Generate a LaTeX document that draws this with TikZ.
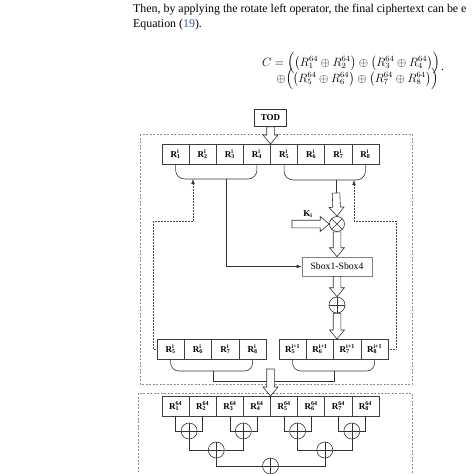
\documentclass[tikz,border=0pt]{standalone}
\usepackage{amsmath}
\usepackage{fontspec}
\setmainfont{Liberation Serif}
\usetikzlibrary{calc,arrows.meta}
\definecolor{linkblue}{RGB}{50,90,190}
\newcommand\blockarrow[2]{%
  \coordinate (bahead) at ($(#2)!9pt!(#1)$);
  \draw[blockarr] ($(#1)!3.8pt!90:(#2)$) -- ($(bahead)!3.8pt!-90:(#1)$) -- ($(bahead)!7.5pt!-90:(#1)$) -- (#2) -- ($(bahead)!7.5pt!90:(#1)$) -- ($(bahead)!3.8pt!90:(#1)$) -- ($(#1)!3.8pt!-90:(#2)$) -- cycle;
}
\begin{document}
\begin{tikzpicture}[x=1pt,y=-1pt,
  cell/.style={draw=black!75, line width=0.6pt, minimum width=27.125pt, minimum height=20pt, inner sep=0pt, outer sep=0pt, font=\fontsize{9}{10}\selectfont},
  cellb/.style={cell, minimum width=27.3pt},
  conn/.style={draw=black!80, line width=0.6pt},
  fb/.style={draw=black!70, line width=0.5pt, densely dotted},
  dbox/.style={draw=black!45, line width=0.6pt, dash pattern=on 2pt off 1.5pt},
  blockarr/.style={draw=black!80, line width=0.6pt, fill=white, line join=miter},
  xorc/.style={circle, draw=black!80, line width=0.6pt, minimum size=16pt, inner sep=0pt},
  xorp/.style={xorc, path picture={\draw[black!80, line width=0.6pt] (path picture bounding box.north) -- (path picture bounding box.south) (path picture bounding box.west) -- (path picture bounding box.east);}},
  xorx/.style={xorc, minimum size=15pt, path picture={\draw[black!80, line width=0.6pt] (path picture bounding box.north east) -- (path picture bounding box.south west) (path picture bounding box.north west) -- (path picture bounding box.south east);}},
  tip/.style={-{Latex[length=5pt,width=3.6pt]}}
]
\useasboundingbox (0,0) rectangle (474,474);

% text above
\node[anchor=base west, inner sep=0pt, font=\fontsize{11.9}{13}\selectfont] (line1) at (133,12) {Then, by applying the rotate left operator, the final ciphertext can be e};
\node[anchor=base west, inner sep=0pt, font=\fontsize{11.9}{13}\selectfont] (line2) at (133,27) {Equation (\textcolor{linkblue}{19}).};
\node[anchor=base east, inner sep=0pt, font=\fontsize{11.5}{13}\selectfont] (eq1) at (440,66) {$C=\Big(\big(R_1^{64}\oplus R_2^{64}\big)\oplus\big(R_3^{64}\oplus R_4^{64}\big)\Big)$};
\node[anchor=base east, inner sep=0pt, font=\fontsize{11.5}{13}\selectfont] (eq2) at (438.5,82) {$\oplus\Big(\big(R_5^{64}\oplus R_6^{64}\big)\oplus\big(R_7^{64}\oplus R_8^{64}\big)\Big)$};
\node[anchor=base west, inner sep=0pt, font=\fontsize{11.5}{13}\selectfont] (eqdot) at (441,70) {.};

% dashed frames
\draw[dbox] (140,134) rectangle (412,384);
\draw[dbox] (138,393) rectangle (412,490);

% TOD
\node[draw=black!80, line width=0.6pt, minimum width=32pt, minimum height=17pt, inner sep=0pt, font=\bfseries\fontsize{9}{10}\selectfont] (tod) at (270.5,118) {TOD};

% registers
\foreach \i in {1,...,8}
  \node[cell] (t\i) at ({162+27.125*(\i-0.5)},154) {$\textbf{R}^{\textbf{i}}_{\textbf{\i}}$};
\foreach \i [count=\k] in {5,...,8}
  \node[cellb] (a\i) at ({157+27.3*(\k-0.5)},349) {$\textbf{R}^{\textbf{i}}_{\textbf{\i}}$};
\foreach \i [count=\k] in {5,...,8}
  \node[cellb] (b\i) at ({279+27.3*(\k-0.5)},349) {$\textbf{R}^{\textbf{i+1}}_{\textbf{\i}}$};
\foreach \i in {1,...,8}
  \node[cell] (c\i) at ({162+27.125*(\i-0.5)},406) {$\textbf{R}^{\textbf{64}}_{\textbf{\i}}$};

\blockarrow{tod.south}{t4.north east}

% top brackets
\draw[conn, rounded corners=9pt] (t1.south) -- (t1.south |- 0,179) -- (t4.south |- 0,179) -- (t4.south);
\draw[conn, rounded corners=9pt] (t5.south) -- (t5.south |- 0,180) -- (t8.south |- 0,180) -- (t8.south);

% round function
\node[xorx] (x1) at (337,224) {};
\node[draw=black!50, line width=0.6pt, minimum width=70pt, minimum height=19pt, inner sep=0pt, font=\fontsize{9.7}{11}\selectfont] (sbox) at (337,266.5) {Sbox1-Sbox4};
\node[xorp] (p0) at (337,305) {};
\node[inner sep=0pt, font=\fontsize{9}{10}\selectfont] (klab) at (308,214) {$\textbf{K}_{\textbf{i}}$};

\coordinate (brc) at (336,180);
\coordinate (brs) at (336,193);
\draw[conn] (brc) -- (brs);
\blockarrow{brs}{x1.north}
\coordinate (kin) at (292,224);
\blockarrow{kin}{x1.west}
\blockarrow{x1.south}{sbox.north}
\blockarrow{sbox.south}{p0.north}
\coordinate (bin) at (337,339);
\blockarrow{p0.south}{bin}

\coordinate (blc) at (226,179);
\draw[conn, tip] (blc) |- (sbox.west);

% feedback
\coordinate (bla) at (193,179);
\coordinate (bra) at (354,180);
\draw[fb] (a5.west) -| (153,221) -| ($(bla)+(0,4)$);
\draw[black!80, line width=0.5pt, tip] ($(bla)+(0,6)$) -- (bla);
\draw[fb] (b8.east) -| (396,221) -| ($(bra)+(0,4)$);
\draw[black!80, line width=0.5pt, tip] ($(bra)+(0,6)$) -- (bra);

% lower brackets
\draw[conn, rounded corners=8pt] (a5.south) -- (a5.south |- 0,371) -- (a8.south |- 0,371) -- (a8.south);
\draw[conn, rounded corners=8pt] (b5.south) -- (b5.south |- 0,371) -- (b8.south |- 0,371) -- (b8.south);
\coordinate (lbc) at (213,371);
\coordinate (rbc) at (334,371);
\draw[conn] (lbc) -- ++(0,10) -| (rbc);
\coordinate (fin) at (270.5,369);
\blockarrow{fin}{c4.north east}

% XOR tree
\node[xorp] (p1) at (c1.south east |- 0,431) {};
\node[xorp] (p2) at (c3.south east |- 0,431) {};
\node[xorp] (p3) at (c5.south east |- 0,431) {};
\node[xorp] (p4) at (c7.south east |- 0,431) {};
\node[xorp] (q1) at (216.3,450) {};
\node[xorp] (q2) at (324.8,450) {};
\node[xorp] (r1) at (270.5,466) {};
\draw[conn] (c1.south) |- (p1.west);
\draw[conn] (c2.south) |- (p1.east);
\draw[conn] (c3.south) |- (p2.west);
\draw[conn] (c4.south) |- (p2.east);
\draw[conn] (c5.south) |- (p3.west);
\draw[conn] (c6.south) |- (p3.east);
\draw[conn] (c7.south) |- (p4.west);
\draw[conn] (c8.south) |- (p4.east);
\draw[conn] (p1.south) |- (q1.west);
\draw[conn] (p2.south) |- (q1.east);
\draw[conn] (p3.south) |- (q2.west);
\draw[conn] (p4.south) |- (q2.east);
\draw[conn] (q1.south) |- (r1.west);
\draw[conn] (q2.south) |- (r1.east);
\end{tikzpicture}
\end{document}
